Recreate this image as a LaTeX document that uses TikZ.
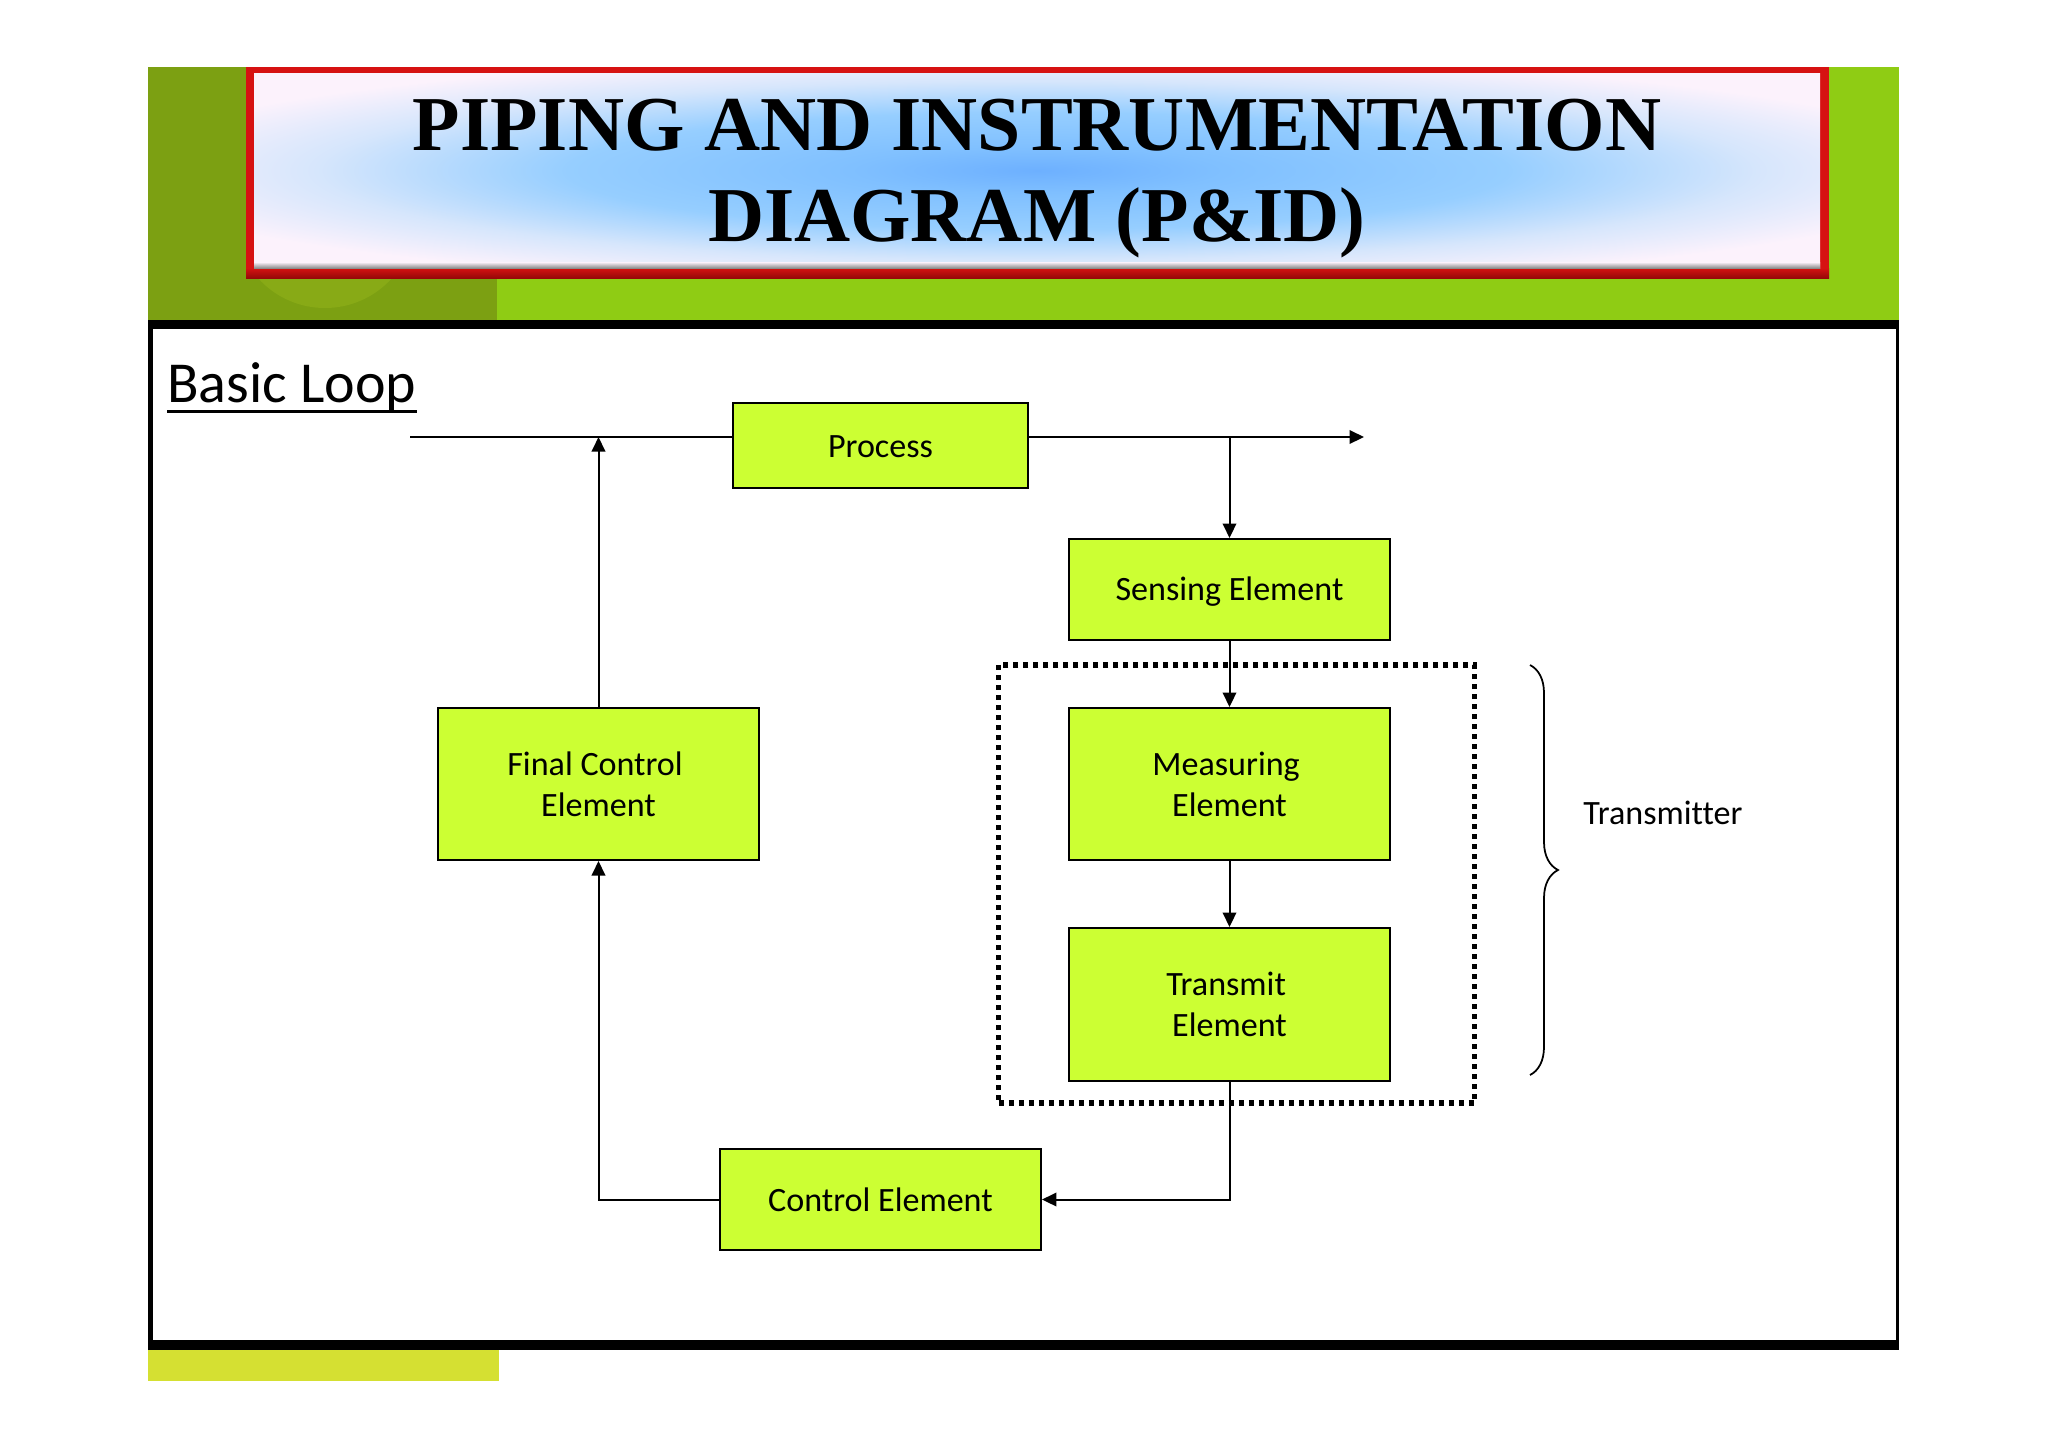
\documentclass[tikz,border=0pt]{standalone}
\usepackage{fontspec}
\setmainfont{Carlito}[Ligatures=NoCommon]
\newfontfamily\titlefont{Liberation Serif}
\usetikzlibrary{arrows.meta,positioning,calc,decorations.pathreplacing}
\definecolor{slidegreen}{RGB}{143, 204, 20}
\definecolor{darkgreen}{RGB}{124, 160, 18}
\definecolor{discgreen}{RGB}{136, 170, 22}
\definecolor{footyellow}{RGB}{213, 224, 50}
\definecolor{elemgreen}{RGB}{204, 255, 51}
\definecolor{framered}{RGB}{214, 18, 18}
\definecolor{framedark}{RGB}{150, 8, 8}
\definecolor{glowa}{RGB}{109, 176, 255}
\definecolor{glowb}{RGB}{128, 192, 255}
\definecolor{glowc}{RGB}{150, 206, 255}
\definecolor{glowd}{RGB}{214, 230, 252}
\definecolor{glowe}{RGB}{252, 242, 252}
\pgfdeclareradialshading{titleglow}{\pgfpoint{0bp}{0bp}}{%
  color(0bp)=(glowa); color(6bp)=(glowb); color(15bp)=(glowc);
  color(23bp)=(glowd); color(30bp)=(glowe); color(100bp)=(glowe)}
\tikzstyle{elembox} = [draw=black, line width=0.04cm, fill=elemgreen, rectangle,
  inner sep=0, align=center, font=\fontsize{19.4}{23.3}\selectfont]
\tikzstyle{conn} = [line width=0.04cm, -{Triangle[length=0.29cm,width=0.27cm]}]
\tikzstyle{plain} = [line width=0.04cm]

\begin{document}
\begin{tikzpicture}[x=0.02cm,y=-0.02cm]
    \useasboundingbox (0,0) rectangle (2048,1448);
    \fill[white] (0,0) rectangle (2048,1448);
    % Header band
    \fill[slidegreen] (148,67) rectangle (1899,321);
    \fill[darkgreen] (148,67) rectangle (497,321);
    \begin{scope}
      \clip (246,278) rectangle (497,321);
      \fill[discgreen] (325,218) circle (90);
    \end{scope}
    \fill[footyellow] (148,1349) rectangle (499,1381);
    % Slide frame
    \fill[black] (148,320) rectangle (1899,1350);
    \fill[white] (153,329) rectangle (1896,1340);
    % Title box
    \fill[framered] (246,67) rectangle (1829,270);
    \shade[top color=framered,bottom color=framedark] (246,268) rectangle (1829,278);
    \shade[shading=titleglow] (254,73) rectangle (1820,268);
    \shade[top color=glowe,bottom color=black!45] (254,262) rectangle (1820,268);
    \node[inner sep=0,align=center,font=\titlefont\bfseries\fontsize{44.2}{51.8}\selectfont]
    (Title) at (1037,179)
    {PIPING AND INSTRUMENTATION\\DIAGRAM (P\&ID)};
    % Heading
    \node[inner sep=0,anchor=base west,font=\fontsize{33}{40}\selectfont]
    (Heading) at (167,402) {Basic Loop};
    \draw[line width=0.06cm] (Heading.south west) -- (Heading.south east);
    % Dotted group, under the arrows
    \node[draw=black,line width=0.11cm,dash pattern=on 0.1cm off 0.1cm,
      minimum width=9.52cm,minimum height=8.76cm,inner sep=0]
    (Group) at (1236.5,884) {};
    % Elements
    \node[elembox,minimum width=5.9cm,minimum height=1.7cm] (Process) at (880.5,445.5) {\raisebox{-0.02cm}[\height][\depth]{Process}};
    \node[elembox,minimum width=6.42cm,minimum height=2.02cm] (Sensing) at (1229.5,589.5) {\raisebox{-0.04cm}[\height][\depth]{Sensing Element}};
    \node[elembox,minimum width=6.42cm,minimum height=3.04cm] (Measuring) at (1229.5,784) {Measuring\hspace*{0.2em}\\Element};
    \node[elembox,minimum width=6.42cm,minimum height=3.06cm] (Transmit) at (1229.5,1004.5) {Transmit\hspace*{0.2em}\\Element};
    \node[elembox,minimum width=6.42cm,minimum height=3.04cm] (Final) at (598.5,784) {Final Control\hspace*{0.2em}\\Element};
    \node[elembox,minimum width=6.42cm,minimum height=2.02cm] (Control) at (880.5,1199.5) {Control Element};
    % Pipe ends
    \coordinate (Pipe In) at (410,437);
    \coordinate (Pipe Out) at (1364,437);
    % Connectors
    \draw[plain] (Pipe In) -- (Pipe In -| Process.west);
    \draw[conn] (Pipe In -| Process.east) -- (Pipe Out);
    \draw[conn] (Pipe In -| Sensing.north) -- (Sensing.north);
    \draw[conn] (Sensing) -- (Measuring);
    \draw[conn] (Measuring) -- (Transmit);
    \draw[conn] (Transmit.south) |- (Control.east);
    \draw[conn] (Control.west) -| (Final.south);
    \draw[conn] (Final.north) -- (Final.north |- Pipe In);
    % Brace
    \coordinate (Brace Top) at (1530,665);
    \coordinate (Brace Bottom) at (1530,1075);
    \draw[line width=0.035cm,decorate,decoration={brace,amplitude=0.56cm}] (Brace Top) -- (Brace Bottom);
    \node[inner sep=0,font=\fontsize{19.4}{23.3}\selectfont] (Transmitter) at (1663,813) {Transmitter};
\end{tikzpicture}
\end{document}
